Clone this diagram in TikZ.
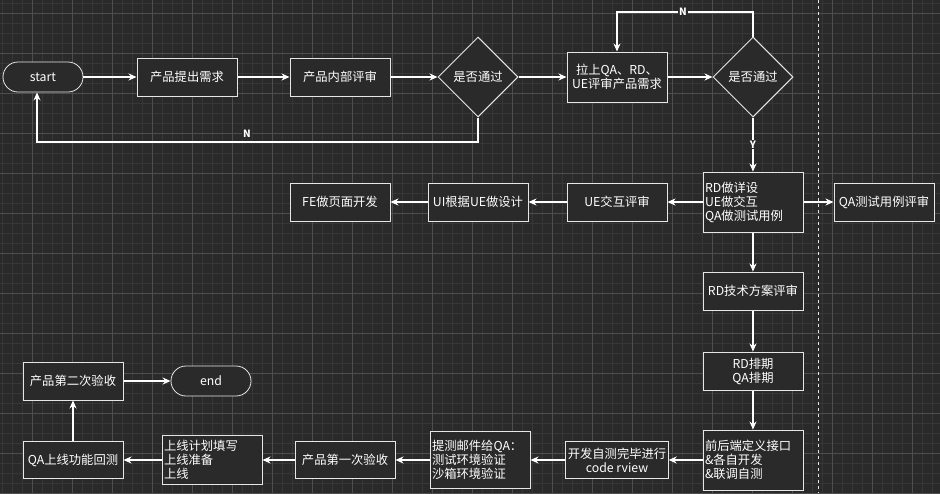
\documentclass[tikz,border=0pt]{standalone}
\usepackage{fontspec}
\setmainfont{Noto Sans CJK SC}
\usetikzlibrary{shapes.geometric,arrows.meta}
\definecolor{bg}{HTML}{2A2A2A}
\definecolor{minorg}{HTML}{373737}
\definecolor{majorg}{HTML}{4E4E4E}
\definecolor{edge}{HTML}{E6E6E6}
\tikzset{
  every node/.style={font=\fontsize{12.3}{14}\selectfont, text=white},
  box/.style={draw=edge, fill=bg, line width=1pt, minimum width=100pt, minimum height=38pt, inner sep=2pt, align=center},
  lbox/.style={box, text width=96pt, align=left},
  term/.style={draw=edge, fill=bg, line width=0.8pt, rounded corners=15pt, minimum width=80pt, minimum height=30pt},
  dia/.style={draw=edge, fill=bg, line width=1pt, diamond, minimum width=80pt, minimum height=80pt, inner sep=0pt},
  conn/.style={draw=white, line width=1.2pt, -{Stealth[length=8pt,width=7pt]}},
  lab/.style={fill=bg, inner sep=1pt, font=\fontsize{10}{12}\selectfont\bfseries, text=white!85}
}
\begin{document}
\begin{tikzpicture}[x=1pt,y=-1pt]
\useasboundingbox (0,0) rectangle (940,493);
\fill[bg] (0,0) rectangle (940,493);
\foreach \i in {0,...,93} {\draw[minorg,line width=0.5pt] (2+10*\i,0) -- (2+10*\i,493);}
\foreach \i in {0,...,49} {\draw[minorg,line width=0.5pt] (0,3+10*\i) -- (940,3+10*\i);}
\foreach \i in {0,...,23} {\draw[majorg,line width=0.8pt] (32+40*\i,0) -- (32+40*\i,493);}
\foreach \i in {0,...,12} {\draw[majorg,line width=0.8pt] (0,13+40*\i) -- (940,13+40*\i);}
\draw[edge, dashed, line width=0.8pt] (818,0) -- (818,493);

\node[term] (start) at (43,77) {start};
\node[box] (p1) at (187,77) {产品提出需求};
\node[box] (p2) at (340,77) {产品内部评审};
\node[dia] (d1) at (478,77) {是否通过};
\node[box, minimum height=50pt] (p3) at (617,77) {拉上QA、RD、\\UE评审产品需求};
\node[dia] (d2) at (753,77) {是否通过};
\node[lbox, minimum height=60pt] (rd) at (753,202) {RD做详设\\UE做交互\\QA做测试用例};
\node[box] (qa) at (884,202) {QA测试用例评审};
\node[box] (ue) at (617,202) {UE交互评审};
\node[box] (ui) at (478,202) {UI根据UE做设计};
\node[box] (fe) at (340,202) {FE做页面开发};
\node[box] (tech) at (753,291) {RD技术方案评审};
\node[box] (pq) at (753,371) {RD排期\\QA排期};
\node[lbox, minimum height=60pt] (dev) at (753,460) {前后端定义接口\\\&各自开发\\\&联调自测};
\node[box, minimum height=37pt] (cr) at (617,460) {开发自测完毕进行\\code rview};
\node[lbox, minimum height=57pt] (mail) at (480,460) {提测邮件给QA：\\测试环境验证\\沙箱环境验证};
\node[box, minimum height=37pt] (a1) at (345,460) {产品第一次验收};
\node[lbox, minimum height=49pt] (up) at (212,460) {上线计划填写\\上线准备\\上线};
\node[box, minimum height=37pt] (qr) at (73,460) {QA上线功能回测};
\node[box] (a2) at (73,381) {产品第二次验收};
\node[term] (end) at (211,381) {end};

\coordinate (b1) at (478,142);
\coordinate (b2) at (37,142);
\coordinate (t1) at (753,12);
\coordinate (t2) at (617,12);

\draw[conn] (start) -- (p1);
\draw[conn] (p1) -- (p2);
\draw[conn] (p2) -- (d1);
\draw[conn] (d1) -- (p3);
\draw[conn] (p3) -- (d2);
\draw[conn] (d1.south) -- (b1) -- (b2) -- (start.south -| b2);
\node[lab] at (247,134) {N};
\draw[conn] (d2.north) -- (t1) -- (t2) -- (p3.north);
\node[lab] at (683,12) {N};
\draw[conn] (d2.south) -- node[lab, pos=0.5]{Y} (rd.north);
\draw[conn] (rd) -- (qa);
\draw[conn] (rd) -- (ue);
\draw[conn] (ue) -- (ui);
\draw[conn] (ui) -- (fe);
\draw[conn] (rd) -- (tech);
\draw[conn] (tech) -- (pq);
\draw[conn] (pq) -- (dev);
\draw[conn] (dev) -- (cr);
\draw[conn] (cr) -- (mail);
\draw[conn] (mail) -- (a1);
\draw[conn] (a1) -- (up);
\draw[conn] (up) -- (qr);
\draw[conn] (qr) -- (a2);
\draw[conn] (a2) -- (end);
\end{tikzpicture}
\end{document}
